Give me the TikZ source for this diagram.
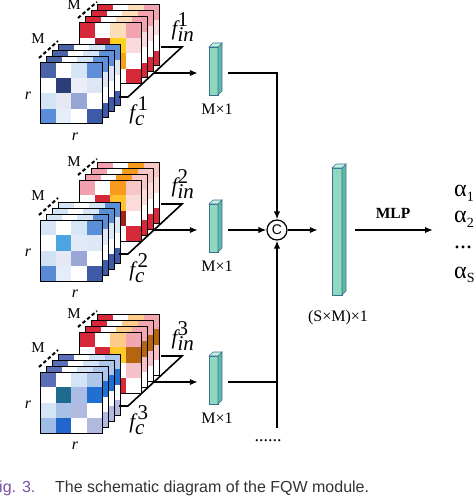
\documentclass[tikz,border=0pt]{standalone}
\usepackage{fontspec}
\setmainfont{Liberation Serif}
\newfontfamily\capfont{Liberation Sans}
\usetikzlibrary{arrows.meta}
\definecolor{barfront}{HTML}{8ED9C0}
\definecolor{bartop}{HTML}{C2F0E2}
\definecolor{barside}{HTML}{5DBBA5}
\definecolor{barline}{HTML}{3C6F8F}
\definecolor{capp}{HTML}{7A4FA8}
\definecolor{capg}{HTML}{333333}
\def\pbA{4A64A8,FFFFFF,D5E5F5,5E8FD8,FFFFFF,2C3E78,E9EEF8,DCE6F5,D3E4F5,E6E9F4,98A6D6,FFFFFF,5A8EDA,E5EFFA,FFFFFF,3E5AA8}
\def\prA{D62839,FFFFFF,FDDDB8,F2A3AF,FFFFFF,A81C2C,FDD21C,FADADF,FFFFFF,FFFFFF,F9A01A,FFFFFF,FFFFFF,FFFFFF,FFFFFF,D62839}
\def\pbB{D5E5F5,FFFFFF,D5E7F7,5A8FD6,FFFFFF,4AA5E0,E3EAF7,DDE8F6,D0E2F4,E4E9F5,9AA6D6,FFFFFF,5A8AD6,E4EEFA,FFFFFF,3F5BA8}
\def\prB{F2A0B0,FFFFFF,F89A1C,F8C6C4,FFFFFF,D62839,FDC22E,FBDCD8,FFFFFF,FFFFFF,A3201A,FFFFFF,FFFFFF,FFFFFF,FFFFFF,D62839}
\def\pbC{5A6FB8,FFFFFF,D2E4F6,AEC6EA,FFFFFF,1F6A8F,AABDE6,2070D2,D4E6F6,A9C0E6,B2B9DE,FFFFFF,9FBCE8,2166CC,FFFFFF,B2B9DE}
\def\prC{D62839,FFFFFF,FDCB8A,F4A6B0,FFFFFF,D62839,FDC82A,B5650F,FFFFFF,FFFFFF,FFFFFF,F6C0C8,FFFFFF,FFFFFF,D62839,FFFFFF}
\newcommand{\drawlayer}[3]{%
  \foreach \h [count=\k from 0] in #3 {%
    \pgfmathtruncatemacro{\rr}{floor(\k/4)}%
    \pgfmathtruncatemacro{\cc}{mod(\k,4)}%
    \edef\tmpdef{\noexpand\definecolor{cellc}{HTML}{\h}}\tmpdef
    \fill[cellc] ({#1+\cc*15.5},{#2+\rr*15.25}) rectangle ++(15.5,15.25);
  }%
  \draw[line width=1pt] (#1,#2) rectangle ++(62,61);
}
\newcommand{\stackof}[3]{%
  \foreach \j in {3,2,1,0} {\drawlayer{#1+6*\j}{#2-6*\j}{#3}}%
}
\newcommand{\barshape}[4]{% x left, y top, y bottom, width
  \filldraw[barline, fill=barfront, line width=0.6pt] (#1,#2) rectangle (#1+#4,#3);
  \filldraw[barline, fill=barside, line width=0.6pt] (#1+#4,#2) -- (#1+#4+4,#2-4) -- (#1+#4+4,#3-4) -- (#1+#4,#3) -- cycle;
  \filldraw[barline, fill=bartop, line width=0.6pt] (#1,#2) -- (#1+4,#2-4) -- (#1+#4+4,#2-4) -- (#1+#4,#2) -- cycle;
}
\tikzset{
  ln/.style={line width=1.6pt, black},
  arr/.style={ln, -{Latex[length=8pt,width=6.5pt]}},
  dimlab/.style={font=\fontsize{16}{17}\selectfont, inner sep=0pt},
  flab/.style={font=\fontsize{21}{22}\selectfont, inner sep=0pt},
  rlab/.style={font=\fontsize{16}{17}\selectfont\itshape, inner sep=0pt},
  mlab/.style={font=\fontsize{15}{16}\selectfont, inner sep=0pt},
  mdash/.style={line width=2pt, dash pattern=on 3.5pt off 2.5pt},
  anchorbox/.style={inner sep=0pt, minimum width=13pt, minimum height=52pt},
  alab/.style={font=\fontsize{24}{24}\selectfont, inner sep=0pt, anchor=west},
}
\newcommand{\group}[5]{% id, dy, blue palette, red palette
  \stackof{79}{23+#2}{#4}
  \stackof{40}{63+#2}{#3}
  \node[mlab] (mb#1) at (38,39+#2) {M};
  \node[mlab] (mr#1) at (74,5+#2) {M};
  \coordinate (mbs#1) at (39,58+#2);
  \coordinate (mbe#1) at (58,41+#2);
  \coordinate (mrs#1) at (78,18+#2);
  \coordinate (mre#1) at (97,2+#2);
  \draw[mdash] (mbs#1) -- (mbe#1);
  \draw[mdash] (mrs#1) -- (mre#1);
  \node[rlab] (rl#1) at (28,96+#2) {r};
  \node[rlab] (rb#1) at (75,137+#2) {r};
  \coordinate (za#1) at (119,97+#2);
  \coordinate (zb#1) at (128,97+#2);
  \coordinate (zc#1) at (182,47+#2);
  \coordinate (zd#1) at (161,47+#2);
  \coordinate (zm#1) at (154,73+#2);
  \draw[ln] (za#1) -- (zb#1) -- (zc#1) -- (zd#1);
  \node[flab] (fin#1) at (183,27+#2) {${\textit{f}}^{\textrm{#1}}_{\textit{in}}$};
  \node[flab] (fc#1) at (139,111+#2) {${\textit{f}}^{\,\textrm{#1}}_{\textit{c}}$};
  \barshape{209}{47+#2}{95+#2}{9}
  \node[anchorbox] (bar#1) at (215.5,73+#2) {};
  \draw[arr, shorten >=11pt] (zm#1) -- (bar#1.west);
  \node[dimlab] (dim#1) at (217,109+#2) {M×1};
}
\begin{document}
\begin{tikzpicture}[x=1pt,y=-1pt]
\useasboundingbox (0,0) rectangle (474,497);
\group{1}{0}{\pbA}{\prA}{}
\group{2}{157}{\pbB}{\prB}{}
\group{3}{309}{\pbC}{\prC}{}
% concat
\node[circle, draw, line width=1.2pt, minimum size=20pt, inner sep=0pt, font=\capfont\fontsize{14}{14}\selectfont] (cat) at (277,230) {C};
\draw[arr, shorten <=6pt] (bar1.east) -| (cat.north);
\draw[arr, shorten <=6pt] (bar2.east) -- (cat.west);
\coordinate (vbot) at (277,428);
\draw[arr] (vbot) -- (cat.south);
\draw[ln, shorten <=6pt] (bar3.east) -- (bar3.east -| cat);
\node[font=\fontsize{18}{18}\selectfont, inner sep=0pt] (dots) at (268,441) {......};
% big bar
\barshape{332}{168}{295}{10}
\node[inner sep=0pt, minimum width=14pt, minimum height=131pt] (bigbar) at (339,230) {};
\draw[arr, shorten >=14pt] (cat.east) -- (bigbar.west);
\node[dimlab] (sm) at (338,318) {(S×M)×1};
\coordinate (mlpend) at (433,230);
\draw[arr, shorten <=9pt] (bigbar.east) -- (mlpend);
\node[font=\fontsize{15.5}{15}\selectfont\bfseries, inner sep=0pt] (mlp) at (393,213) {MLP};
\node[alab] (a1) at (454,193) {α\raisebox{-0.2em}{\fontsize{14}{14}\selectfont 1}};
\node[alab] (a2) at (454,219) {α\raisebox{-0.2em}{\fontsize{14}{14}\selectfont 2}};
\node[alab] (ad) at (454,247) {...};
\node[alab] (as) at (454,275) {α\raisebox{-0.2em}{\fontsize{14}{14}\selectfont S}};
% caption
\node[anchor=west, inner sep=0pt, text=capp, font=\capfont\fontsize{16}{18}\selectfont] (figno) at (-1,488) {ig. 3.};
\node[anchor=west, inner sep=0pt, text=capg, font=\capfont\fontsize{16}{18}\selectfont] (captxt) at (55,488) {The schematic diagram of the FQW module.};
\end{tikzpicture}
\end{document}
